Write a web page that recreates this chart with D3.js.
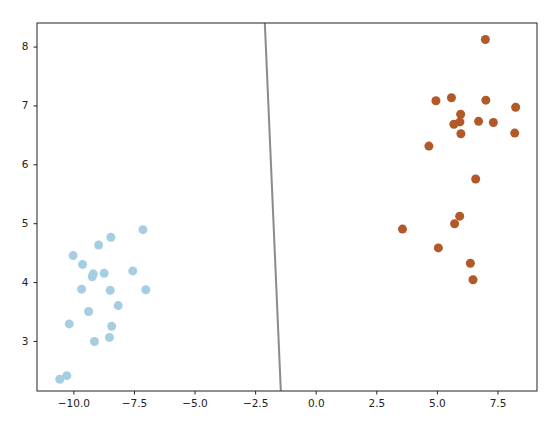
<!DOCTYPE html>
<html><head><meta charset="utf-8">
<script src="https://cdn.jsdelivr.net/npm/d3@7"></script>
<style>body{margin:0;background:#fff}</style></head>
<body><svg id="c" width="553" height="427"></svg>
<script>
const blueX=[-7.13,-8.45,-8.96,-10.01,-9.62,-8.73,-7.55,-9.18,-9.22,-9.66,-8.48,-7.01,-8.15,-9.37,-10.17,-8.42,-8.51,-9.13,-10.27,-10.56];
const blueY=[4.89,4.76,4.63,4.45,4.30,4.15,4.19,4.14,4.09,3.88,3.86,3.87,3.60,3.50,3.29,3.25,3.06,2.99,2.41,2.35];
const orangeX=[7.00,4.96,5.60,7.02,8.25,5.98,5.70,5.95,6.72,7.33,5.99,8.21,4.67,6.60,5.94,5.73,3.58,5.06,6.38,6.49];
const orangeY=[8.12,7.08,7.13,7.09,6.97,6.85,6.68,6.72,6.73,6.71,6.52,6.53,6.31,5.75,5.12,4.99,4.90,4.58,4.32,4.04];
const lineX=[-2.10,-1.44];
const lineY=[8.40,2.15];
const xTicks=[-10,-7.5,-5,-2.5,0,2.5,5,7.5];
const yTicks=[3,4,5,6,7,8];

const W=553,H=427,m={l:37,r:16,t:23,b:36};
const svg=d3.select("#c");
const x=d3.scaleLinear().domain([-11.5,9.13]).range([m.l,W-m.r]);
const y=d3.scaleLinear().domain([2.15,8.40]).range([H-m.b,m.t]);
svg.append("defs").append("clipPath").attr("id","cp").append("rect")
 .attr("x",m.l).attr("y",m.t).attr("width",W-m.l-m.r).attr("height",H-m.t-m.b);
const g=svg.append("g").attr("clip-path","url(#cp)");
g.append("line").attr("x1",x(lineX[0])).attr("y1",y(lineY[0])).attr("x2",x(lineX[1])).attr("y2",y(lineY[1]))
 .attr("stroke","#777").attr("stroke-width",2).attr("opacity",0.85);
g.selectAll(".b").data(blueX).enter().append("circle").attr("cx",d=>x(d)).attr("cy",(d,i)=>y(blueY[i])).attr("r",4.5).attr("fill","#a6cee3");
g.selectAll(".o").data(orangeX).enter().append("circle").attr("cx",d=>x(d)).attr("cy",(d,i)=>y(orangeY[i])).attr("r",4.5).attr("fill","#b15928");
const fmt=d=>d.toFixed(1).replace("-","\u2212");
const xa=svg.append("g").attr("transform",`translate(0,${H-m.b})`).call(d3.axisBottom(x).tickValues(xTicks).tickFormat(fmt).tickSize(3.5).tickPadding(5));
const ya=svg.append("g").attr("transform",`translate(${m.l},0)`).call(d3.axisLeft(y).tickValues(yTicks).tickFormat(d3.format("d")).tickSize(3.5).tickPadding(5));
[xa,ya].forEach(a=>{a.select(".domain").remove();a.selectAll("text").attr("font-family","DejaVu Sans").attr("font-size",10.5).attr("fill","#222");a.selectAll("line").attr("stroke","#222");});
svg.append("rect").attr("x",m.l).attr("y",m.t).attr("width",W-m.l-m.r).attr("height",H-m.t-m.b).attr("fill","none").attr("stroke","#222").attr("stroke-width",1);
</script></body></html>
